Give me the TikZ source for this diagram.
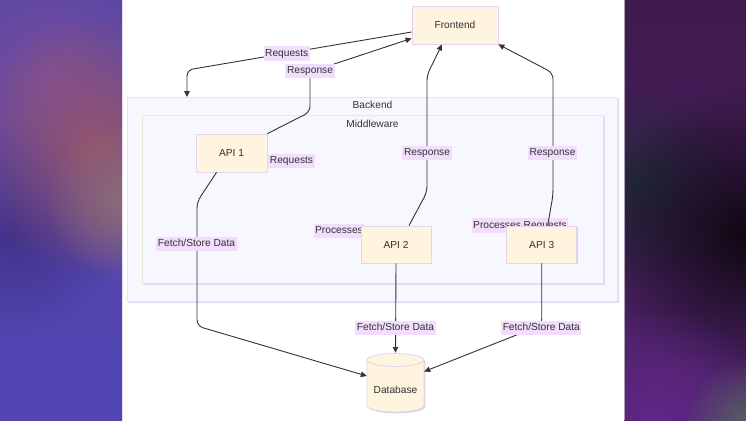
\documentclass[tikz,border=0pt]{standalone}
\usepackage{fontspec}
\setmainfont{Liberation Sans}
\usetikzlibrary{fadings,arrows.meta}
\tikzfading[name=softblob, inner color=transparent!0, outer color=transparent!100]
\definecolor{nodefill}{HTML}{FFF4DE}
\definecolor{nodeborder}{HTML}{E6D3F0}
\definecolor{nodeshadow}{HTML}{DCD2E2}
\definecolor{clusterfill}{HTML}{F7F8FD}
\definecolor{clusterborder}{HTML}{EEE6D6}
\definecolor{clustershadow}{HTML}{E4D6F0}
\definecolor{labelbg}{HTML}{F3DDFD}
\definecolor{txt}{HTML}{333333}
\definecolor{edgecol}{HTML}{333333}
\definecolor{bgLtop}{HTML}{5847A6}
\definecolor{bgLmid}{HTML}{5E3F8E}
\definecolor{bgLbot}{HTML}{5146B4}
\definecolor{bgRtop}{HTML}{3F1A4E}
\definecolor{bgRmid}{HTML}{1E1426}
\definecolor{bgRbot}{HTML}{4C2468}
\tikzset{
  box/.style={draw=nodeborder, fill=nodefill, line width=0.8pt, minimum width=71pt,
    minimum height=38pt, inner sep=0pt, text=txt,
    preaction={fill=nodeshadow, transform canvas={shift={(1.3pt,-1.3pt)}}}},
  elabel/.style={fill=labelbg, inner xsep=1.6pt, inner ysep=1.8pt, text height=8pt,
    text depth=2.5pt, text=txt},
  cluster/.style={fill=clusterfill, draw=clusterborder, line width=1pt,
    preaction={draw=clustershadow, line width=1pt, transform canvas={shift={(1.3pt,-1.3pt)}}}},
  clabel/.style={text=txt, inner sep=0pt},
  edge/.style={draw=edgecol, line width=0.9pt, rounded corners=6pt,
    -{Triangle[length=6pt,width=5.5pt]}},
  blob/.style={path fading=softblob}
}
\begin{document}
\begin{tikzpicture}[x=1pt,y=-1pt, font=\fontsize{10.2}{12}\selectfont]
\useasboundingbox (0,0) rectangle (746,420);
% ---------- side backgrounds
\begin{scope}
  \clip (0,0) rectangle (122,420);
  \shade[top color=bgLtop, middle color=bgLmid, bottom color=bgLbot] (0,0) rectangle (122,420);
  \fill[blob, color={rgb,255:red,122;green,78;blue,156}] (50,75) circle (110);
  \fill[blob, color={rgb,255:red,64;green,50;blue,138}] (15,230) circle (110);
  \fill[blob, color={rgb,255:red,150;green,84;blue,108}] (95,145) circle (130);
  \fill[blob, color={rgb,255:red,140;green,108;blue,118}] (125,200) circle (80);
\end{scope}
\begin{scope}
  \clip (624,0) rectangle (746,420);
  \shade[top color=bgRtop, middle color=bgRmid, bottom color=bgRbot] (624,0) rectangle (746,420);
  \fill[blob, color={rgb,255:red,36;green,44;blue,62}] (640,185) circle (100);
  \fill[blob, color={rgb,255:red,16;green,8;blue,18}] (746,235) circle (150);
  \fill[blob, color={rgb,255:red,99;green,38;blue,138}] (655,425) circle (120);
  \fill[blob, color={rgb,255:red,86;green,104;blue,94}] (752,428) circle (70);
\end{scope}
\fill[white] (122,0) rectangle (624,420);
\draw[color={rgb,255:red,226;green,218;blue,240}, line width=0.8pt] (122,0) -- (122,420);
\draw[color={rgb,255:red,170;green,160;blue,175}, line width=0.8pt] (624,0) -- (624,420);

% ---------- clusters
\draw[cluster] (127,97) rectangle (617,301);
\node[coordinate] (backend) at (372,97) {};
\node[clabel] (backendlbl) at (372.5,105) {Backend};
\draw[cluster] (142,115) rectangle (603,283);
\node[clabel] (middlewarelbl) at (372.5,123.5) {Middleware};

% ---------- edge labels hidden behind nodes (drawn first)
\node[elabel] (lproc2) at (339,231) {Processes};
\node[elabel] (lproc3) at (520,225.5) {Processes Requests};

% ---------- nodes
\node[box, minimum width=86pt] (fe) at (455,25) {Frontend};
\node[box] (api1) at (231.5,153) {API 1};
\node[box, minimum width=70pt, minimum height=37pt] (api2) at (396,244.5) {API 2};
\node[box, minimum width=70pt, minimum height=37pt] (api3) at (541.7,244.5) {API 3};
% database cylinder
\node[minimum width=57pt, minimum height=59pt, inner sep=0pt] (db) at (395.5,382.5) {};
\path[fill=nodeshadow, transform canvas={shift={(1.3pt,-1.3pt)}}]
  (367,360) -- (367,405.5) arc[start angle=180, end angle=0, x radius=28.5, y radius=6.5]
  -- (424,360) arc[start angle=0, end angle=-180, x radius=28.5, y radius=6.5] -- cycle;
\path[fill=nodefill, draw=nodeborder, line width=0.8pt]
  (367,360) -- (367,405.5) arc[start angle=180, end angle=0, x radius=28.5, y radius=6.5]
  -- (424,360) arc[start angle=0, end angle=-180, x radius=28.5, y radius=6.5] -- cycle;
\draw[nodeborder, line width=0.8pt] (367,360) arc[start angle=180, end angle=0, x radius=28.5, y radius=6.5];
\node[clabel] (dbt) at ([yshift=-7.5pt]db.center) {Database};

% ---------- free ends
\coordinate (bkin) at (187,97);

% ---------- connectors
\draw[edge] ([yshift=-7pt]fe.west) -- (187,70) -- (bkin);
\draw[edge] (api1.north east) -- (310,112) -- (310,72) -- ([yshift=6pt]fe.south west);
\draw[edge] ([xshift=13pt]api2.north) -- (427,192) -- (427,75) -- ([xshift=-13pt]fe.south);
\draw[edge] ([xshift=6pt]api3.north) -- (553,195) -- (553,73) -- (fe.south east);
\draw[edge] ([xshift=-15pt]api1.south) -- (197,202) -- (197,326) -- ([yshift=6.5pt]db.west);
\draw[edge] (api2.south) -- (db.north);
\draw[edge] (api3.south) -- (541.7,325) -- ([yshift=11pt]db.east);

% ---------- edge labels
\node[elabel] (lreq) at (286.7,53.5) {Requests};
\node[elabel] (lresp1) at (310,71) {Response};
\node[elabel] (lreq1) at (291.5,161) {Requests};
\node[elabel] (lresp2) at (427,153) {Response};
\node[elabel] (lresp3) at (552.5,153) {Response};
\node[elabel] (lfs1) at (196.5,244) {Fetch/Store Data};
\node[elabel] (lfs2) at (395.5,328) {Fetch/Store Data};
\node[elabel] (lfs3) at (541.3,328) {Fetch/Store Data};
\end{tikzpicture}
\end{document}
